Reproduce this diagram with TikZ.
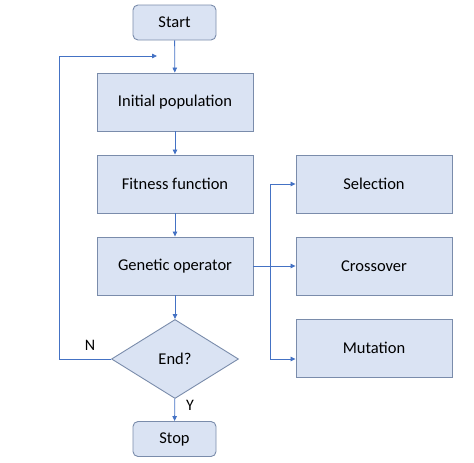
\documentclass[tikz,border=0pt]{standalone}
\usepackage{fontspec}
\setmainfont{Carlito}
\usetikzlibrary{shapes.geometric,arrows.meta}
\definecolor{boxfill}{HTML}{DAE3F3}
\definecolor{boxline}{HTML}{7A8CAB}
\definecolor{arrowc}{HTML}{4472C4}
\begin{document}
\begin{tikzpicture}[x=1pt,y=-1pt,
  base/.style={draw=boxline,fill=boxfill,line width=0.9pt,font=\fontsize{16.5}{19}\selectfont,inner sep=0pt},
  procbox/.style={base,rectangle,minimum width=156pt,minimum height=58pt},
  termbox/.style={base,rectangle,rounded corners=5pt,minimum width=83pt,minimum height=35pt},
  decbox/.style={base,diamond,aspect=1.6,minimum width=127pt,minimum height=79pt},
  conn/.style={draw=arrowc,line width=0.8pt,-{Triangle[length=5pt,width=4.5pt]}},
  plain/.style={draw=arrowc,line width=0.8pt},
  lab/.style={font=\fontsize{16}{19}\selectfont,inner sep=0pt}]
\useasboundingbox (0,0) rectangle (474,463);
\node[termbox] (start) at (174.5,22.5) {Start};
\node[procbox] (init) at (175,102) {Initial population};
\node[procbox] (fit) at (175,184) {Fitness function};
\node[procbox] (gen) at (175,266) {Genetic operator};
\node[procbox] (sel) at (374,184) {Selection};
\node[procbox] (cross) at (374,266) {Crossover};
\node[procbox] (mut) at (374,348) {Mutation};
\node[decbox] (end) at (175,359) {End?};
\node[termbox] (stop) at (174.5,439) {Stop};
\coordinate (loopA) at (59,359);
\coordinate (loopB) at (59,56);
\coordinate (loopC) at (157,56);
\coordinate (brS) at (270,184);
\coordinate (brM) at (270,359);
\coordinate (mutIn) at (mut.west |- brM);
\path[conn] (start) -- (init);
\path[conn] (init) -- (fit);
\path[conn] (fit) -- (gen);
\path[conn] (gen) -- (end);
\path[conn] (end) -- (stop);
\path[conn] (end.west) -- (loopA) -- (loopB) -- (loopC);
\path[conn] (gen.east) -- (cross.west);
\path[conn] (brS) -- (sel.west);
\path[plain] (brS) -- (brM);
\path[conn] (brM) -- (mutIn);
\node[lab] (nlab) at (90,345) {N};
\node[lab] (ylab) at (190,405) {Y};
\end{tikzpicture}
\end{document}
